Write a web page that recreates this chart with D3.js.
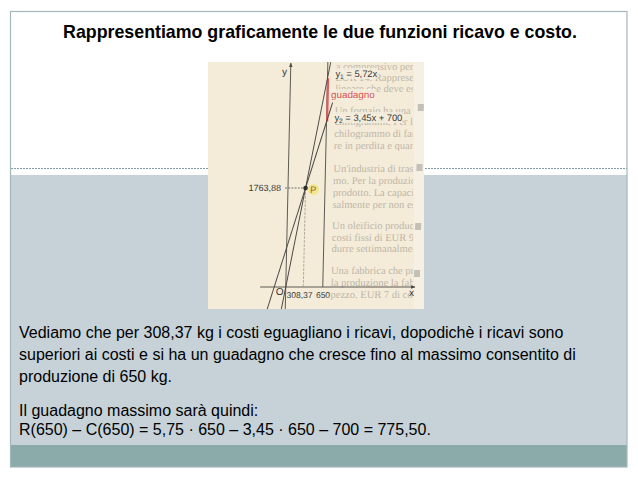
<!DOCTYPE html>
<html>
<head>
<meta charset="utf-8">
<script src="https://cdn.jsdelivr.net/npm/d3@7/dist/d3.min.js"></script>
<style>
  html, body { margin: 0; padding: 0; background: #fff; }
  svg { display: block; }
</style>
</head>
<body>
<svg id="slide" width="638" height="478"></svg>
<script>
// ---------- data ----------
const titleText = "Rappresentiamo graficamente le due funzioni ricavo e costo.";
const bodyLines1 = [
  "Vediamo che per 308,37 kg i costi eguagliano i ricavi, dopodichè i ricavi sono",
  "superiori ai costi e si ha un guadagno che cresce fino al massimo consentito di",
  "produzione di 650 kg."
];
const bodyLines2 = [
  "Il guadagno massimo sarà quindi:",
  "R(650) – C(650) = 5,75 · 650 – 3,45 · 650 – 700 = 775,50."
];
// lines of the chart: end points [x, y]
const ricavoPoints = [[-80, -457.6], [700, 4004]];     // y1 = 5,72x
const costoPoints  = [[-340, -473], [750, 3287.5]];    // y2 = 3,45x + 700
const breakEven = [308.37, 1763.88];
const maxProduction = 650;
const profitSegment = [3718, 2942.5];   // y1(650), y2(650)
const xTickValues = [308.37, 650];
const xTickLabels = ["308,37", "650"];
const yTickValues = [1763.88];
const yTickLabels = ["1763,88"];
const seriesLabels = ["5,72x", "3,45x + 700"];
const profitLabel = "guadagno";
// faint textbook text seen through the photo
const pageText = [
  "a comprensivo per il trasporto del",
  "EUR 14. Rappresenta la funzione con un diagramma",
  "lineare che deve essere garantito per il",
  "",
  "Un fornaio ha una capacità massima di pro",
  "chilogrammi. Per la produzione sostiene",
  "chilogrammo di farina prodotta. Determina",
  "re in perdita e quanto per conseguire il massimo",
  "",
  "Un'industria di trasformazione di ortaggi pe",
  "mo. Per la produzione sostiene costi fissi di",
  "prodotto. La capacità massima produttiva",
  "salmente per non essere in perdita e quello",
  "",
  "Un oleificio produce olio che vende a EUR",
  "costi fissi di EUR 960, più costi di EUR 1,2",
  "durre settimanalmente per non essere in pe",
  "",
  "Una fabbrica che produce componenti per",
  "la produzione la fabbrica sostiene costi",
  "pezzo. EUR 7 di costi fissi più EUR 0,82 p"
];
const pageTextY = [67, 78, 89, null, 111, 122, 134, 146, null, 169, 181, 193, 205, null, 226, 238, 249, null, 271, 283, 295];
const markerY = [104, 164, 223, 270];

// ---------- slide ----------
const svg = d3.select("#slide");
const W = 638, H = 478;

svg.append("rect").attr("x", 0).attr("y", 0).attr("width", W).attr("height", H).attr("fill", "#ffffff");
svg.append("rect").attr("x", 10.5).attr("y", 175).attr("width", 616.5).attr("height", 270).attr("fill", "#c6d2d8");
svg.append("rect").attr("x", 10.5).attr("y", 445).attr("width", 616.5).attr("height", 22).attr("fill", "#8aaba9");
svg.append("line").attr("x1", 11).attr("x2", 627).attr("y1", 168.5).attr("y2", 168.5)
  .attr("stroke", "#7fa0a6").attr("stroke-width", 1).attr("stroke-dasharray", "2,1");
svg.append("rect").attr("x", 10.5).attr("y", 11.5).attr("width", 616.5).attr("height", 455.5)
  .attr("fill", "none").attr("stroke", "#a3b6ba").attr("stroke-width", 1.2);

// title
svg.append("text").attr("x", 320).attr("y", 38).attr("text-anchor", "middle")
  .attr("font-family", "'Liberation Sans', Arial, sans-serif").attr("font-weight", "bold")
  .attr("font-size", 17.8).attr("fill", "#000").text(titleText);

// body text
const bodyFont = "'Liberation Sans', Arial, sans-serif";
svg.append("g").selectAll("text").data(bodyLines1).join("text")
  .attr("x", 19).attr("y", (d, i) => 338 + i * 22)
  .attr("font-family", bodyFont).attr("font-size", 16).attr("fill", "#000").text(d => d);
svg.append("g").selectAll("text").data(bodyLines2).join("text")
  .attr("x", 19).attr("y", (d, i) => 416 + i * 18.5)
  .attr("font-family", bodyFont).attr("font-size", 16).attr("fill", "#000").text(d => d);

// ---------- photo of the textbook chart ----------
const img = { x: 208, y: 62, w: 216, h: 247 };
const defs = svg.append("defs");
defs.append("clipPath").attr("id", "photoClip").append("rect")
  .attr("x", img.x).attr("y", img.y).attr("width", img.w).attr("height", img.h);
defs.append("clipPath").attr("id", "textClip").append("rect")
  .attr("x", img.x).attr("y", img.y).attr("width", 205).attr("height", img.h);

const photo = svg.append("g").attr("clip-path", "url(#photoClip)");
photo.append("rect").attr("x", img.x).attr("y", img.y).attr("width", img.w).attr("height", img.h).attr("fill", "#f4ecd9");
photo.append("rect").attr("x", 414).attr("y", img.y).attr("width", 10).attr("height", img.h).attr("fill", "#f6f0e2");

const cx = 305, cy = 188;
const skewT = `translate(${cx},${cy}) skewX(-1.3) translate(${-cx},${-cy})`;

// faint page text
photo.append("g").attr("clip-path", "url(#textClip)")
  .append("g").attr("transform", skewT)
  .selectAll("text").data(pageText.map((t, i) => ({ t, y: pageTextY[i] })).filter(d => d.y !== null))
  .join("text")
  .attr("x", 333).attr("y", d => d.y + 3)
  .attr("font-family", "'Liberation Serif', 'DejaVu Serif', serif").attr("font-size", 10.5)
  .attr("fill", "#8f887c").attr("opacity", 0.55).text(d => d.t);

const chart = photo.append("g").attr("transform", skewT);
chart.append("g").selectAll("rect").data(markerY).join("rect")
  .attr("x", 416).attr("y", d => d).attr("width", 6).attr("height", 7)
  .attr("fill", "#c4c0b8");

const x = d3.scaleLinear().domain([0, maxProduction]).range([288, 325]);
const y = d3.scaleLinear().domain([0, breakEven[1]]).range([287, 188]);

const ink = "#4d4a46";
const lblFont = "'Liberation Sans', Arial, sans-serif";

// soft paper patches behind the labels
chart.append("rect").attr("x", 331).attr("y", 68).attr("width", 44).attr("height", 11).attr("fill", "#f5efe0").attr("opacity", 0.8);
chart.append("rect").attr("x", 328).attr("y", 89).attr("width", 46).attr("height", 11).attr("fill", "#f5efe0").attr("opacity", 0.8);
chart.append("rect").attr("x", 331).attr("y", 112).attr("width", 70).attr("height", 11).attr("fill", "#f5efe0").attr("opacity", 0.8);

// axes lines with arrows
defs.append("marker").attr("id", "arrow").attr("viewBox", "0 0 10 10")
  .attr("refX", 9).attr("refY", 5).attr("markerWidth", 5).attr("markerHeight", 5)
  .attr("orient", "auto-start-reverse")
  .append("path").attr("d", "M0,1 L10,5 L0,9 z").attr("fill", ink);

chart.append("line").attr("x1", x(-450)).attr("x2", x(2270)).attr("y1", y(0)).attr("y2", y(0))
  .attr("stroke", ink).attr("stroke-width", 0.9).attr("marker-end", "url(#arrow)");
chart.append("line").attr("x1", x(0)).attr("x2", x(0)).attr("y1", y(-460)).attr("y2", y(3990))
  .attr("stroke", ink).attr("stroke-width", 0.9).attr("marker-end", "url(#arrow)");

// x tick labels via d3 axis
const xAxis = d3.axisBottom(x).tickValues(xTickValues).tickSize(0)
  .tickFormat((d, i) => xTickLabels[i]);
const xg = chart.append("g").attr("transform", `translate(0,${y(0)})`).call(xAxis);
xg.select(".domain").remove();
xg.selectAll("text").attr("font-family", lblFont)
  .attr("font-size", 8.5).attr("fill", "#3a3835").attr("dy", "0.95em")
  .attr("text-anchor", (d, i) => i === 0 ? "end" : "middle")
  .attr("dx", (d, i) => i === 0 ? 9 : 0);

// y tick label via d3 axis
const yAxis = d3.axisLeft(y).tickValues(yTickValues).tickSize(0)
  .tickFormat((d, i) => yTickLabels[i]);
const yg = chart.append("g").attr("transform", `translate(${x(0) - 4},0)`).call(yAxis);
yg.select(".domain").remove();
yg.selectAll("text").attr("font-family", lblFont)
  .attr("font-size", 9).attr("fill", "#3a3835");

// dashed guides to P
chart.append("line").attr("x1", x(0) - 3).attr("x2", x(breakEven[0])).attr("y1", y(breakEven[1])).attr("y2", y(breakEven[1]))
  .attr("stroke", "#5a5752").attr("stroke-width", 0.8).attr("stroke-dasharray", "2,1.2");
chart.append("line").attr("x1", x(breakEven[0])).attr("x2", x(breakEven[0])).attr("y1", y(breakEven[1])).attr("y2", y(0))
  .attr("stroke", "#9a958c").attr("stroke-width", 0.7).attr("stroke-dasharray", "3,1");

// vertical line at max production
chart.append("line").attr("x1", x(maxProduction)).attr("x2", x(maxProduction)).attr("y1", y(0)).attr("y2", y(4100))
  .attr("stroke", ink).attr("stroke-width", 0.9);

// profit segment
chart.append("line").attr("x1", x(maxProduction) + 0.6).attr("x2", x(maxProduction) + 0.6)
  .attr("y1", y(profitSegment[0])).attr("y2", y(profitSegment[1]))
  .attr("stroke", "#e05a5e").attr("stroke-width", 2.2);

// function lines
const lineGen = d3.line().x(d => x(d[0])).y(d => y(d[1]));
chart.append("path").datum(ricavoPoints).attr("d", lineGen)
  .attr("fill", "none").attr("stroke", ink).attr("stroke-width", 1);
chart.append("path").datum(costoPoints).attr("d", lineGen)
  .attr("fill", "none").attr("stroke", ink).attr("stroke-width", 1);

// point P
chart.append("circle").attr("cx", x(breakEven[0]) + 8).attr("cy", y(breakEven[1]) + 1.5).attr("r", 5.5)
  .attr("fill", "#f3e478").attr("opacity", 0.75);
chart.append("circle").attr("cx", x(breakEven[0])).attr("cy", y(breakEven[1])).attr("r", 2.3).attr("fill", "#2f2d2a");
chart.append("text").attr("x", x(breakEven[0]) + 4.5).attr("y", y(breakEven[1]) + 5)
  .attr("font-family", lblFont).attr("font-size", 9.5).attr("fill", "#8a7432").text("P");

// axis names and origin
chart.append("text").attr("x", x(0) - 6).attr("y", 75).attr("text-anchor", "middle")
  .attr("font-family", lblFont).attr("font-size", 10).attr("fill", "#333").text("y");
chart.append("text").attr("x", 414).attr("y", 296).attr("text-anchor", "middle")
  .attr("font-family", lblFont).attr("font-size", 10).attr("fill", "#333").text("x");
chart.append("text").attr("x", x(0) - 6).attr("y", 295).attr("text-anchor", "middle")
  .attr("font-family", lblFont).attr("font-size", 10).attr("fill", "#333").text("O");

// series labels
function seriesLabel(xp, yp, sub, rest) {
  const t = chart.append("text").attr("x", xp).attr("y", yp)
    .attr("font-family", lblFont).attr("font-size", 9.3).attr("fill", "#3a3835");
  t.append("tspan").text("y");
  t.append("tspan").attr("font-size", 6.5).attr("dy", 2).text(sub);
  t.append("tspan").attr("dy", -2).text(" = " + rest);
  return t;
}
seriesLabel(333, 77, "1", seriesLabels[0]);
chart.append("text").attr("x", 329).attr("y", 98)
  .attr("font-family", lblFont).attr("font-size", 9.8).attr("fill", "#d5504e").text(profitLabel);
seriesLabel(333, 121, "2", seriesLabels[1]);
</script>
</body>
</html>
